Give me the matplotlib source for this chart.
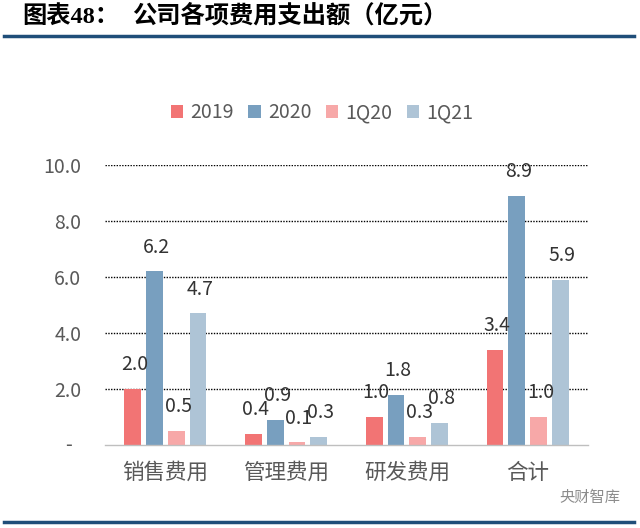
import matplotlib.pyplot as plt
from matplotlib.lines import Line2D
from matplotlib.patches import Patch

plt.rcParams['font.family'] = ['Noto Sans CJK SC', 'DejaVu Sans']

categories = ['销售费用', '管理费用', '研发费用', '合计']
series_names = ['2019', '2020', '1Q20', '1Q21']
v2019 = [2.0, 0.4, 1.0, 3.4]
v2020 = [6.2, 0.9, 1.8, 8.9]
v1q20 = [0.5, 0.1, 0.3, 1.0]
v1q21 = [4.7, 0.3, 0.8, 5.9]
yticks = [0, 2, 4, 6, 8, 10]

colors = ['#F27474', '#789FBF', '#F7A8A8', '#AEC4D6']
navy = '#1F4E79'
text_gray = '#595959'

fig = plt.figure(figsize=(6.4, 5.28), dpi=100)
ax = fig.add_axes([105 / 640, 1 - 445 / 528, 483 / 640, 280 / 528])

series = [v2019, v2020, v1q20, v1q21]
offsets = [-0.27, -0.09, 0.09, 0.27]
width = 0.14
x = range(len(categories))

for vals, off, col, name in zip(series, offsets, colors, series_names):
    xs = [i + off for i in x]
    ax.bar(xs, vals, width=width, color=col, label=name, zorder=3)
    for xi, v in zip(xs, vals):
        ax.annotate(f'{v:.1f}', (xi, v), xytext=(2, 24), textcoords='offset pixels',
                    ha='center', va='center', fontsize=14, color='#333333', zorder=4)

ax.set_xlim(-0.5, 3.5)
ax.set_ylim(0, 10)

# dotted gridlines (not at zero)
for yv in yticks[1:]:
    ax.axhline(yv, color='black', linestyle=(0, (1, 1)), linewidth=1, zorder=1)

ax.set_yticks(yticks)
ax.set_yticklabels([''] + [f'{t:.1f}' for t in yticks[1:]])
ax.text(-0.075, 0, '-', transform=ax.get_yaxis_transform(), ha='center', va='center',
        fontsize=14, color=text_gray)
ax.set_xticks(list(x))
ax.set_xticklabels(categories)
ax.tick_params(axis='y', length=0, pad=17, labelsize=14, labelcolor=text_gray)
ax.tick_params(axis='x', length=0, pad=12, labelsize=15.5, labelcolor=text_gray)

for s in ['top', 'right', 'left']:
    ax.spines[s].set_visible(False)
ax.spines['bottom'].set_color('#BFBFBF')
ax.spines['bottom'].set_linewidth(1)
ax.spines['bottom'].set_zorder(5)

handles = [Patch(facecolor=c, label=n) for c, n in zip(colors, series_names)]
fig.legend(handles=handles, loc='center', bbox_to_anchor=(322 / 640, 1 - 113 / 528),
           ncol=4, frameon=False, fontsize=14, handlelength=0.65, handleheight=0.65,
           handletextpad=0.35, columnspacing=0.75, labelcolor=text_gray)

# title and rules
fig.text(22 / 640, 1 - 16 / 528, '图表48：', fontsize=17.5, fontweight='bold', va='center',
         color='black', family=['Liberation Serif', 'Noto Sans CJK SC'])
fig.text(132 / 640, 1 - 16 / 528, '公司各项费用支出额（亿元）', fontsize=17.5, fontweight='bold',
         va='center', color='black')
fig.add_artist(Line2D([4 / 640, 634 / 640], [1 - 36 / 528] * 2, color=navy, linewidth=2.5))
fig.add_artist(Line2D([4 / 640, 634 / 640], [1 - 522 / 528] * 2, color=navy, linewidth=2.5))

# watermark
fig.text(620 / 640, 1 - 497 / 528, '央财智库', fontsize=11, color='#8C8C8C', ha='right', va='center')

fig.savefig('out.png', dpi=100)
